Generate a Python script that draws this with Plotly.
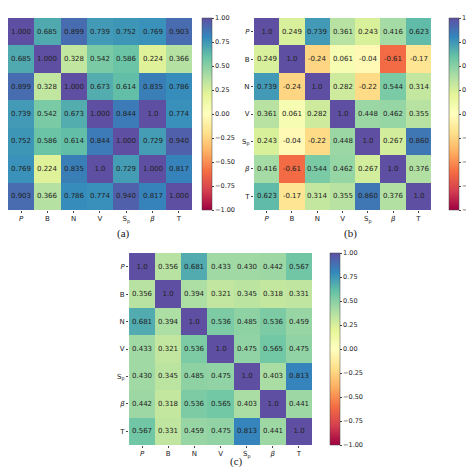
import plotly.graph_objects as go

labels = ["<i>P</i>", "B", "N", "V", "S<sub>p</sub>", "<i>β</i>", "T"]

vals_a = [
    ["1.000", "0.685", "0.899", "0.739", "0.752", "0.769", "0.903"],
    ["0.685", "1.000", "0.328", "0.542", "0.586", "0.224", "0.366"],
    ["0.899", "0.328", "1.000", "0.673", "0.614", "0.835", "0.786"],
    ["0.739", "0.542", "0.673", "1.000", "0.844", "1.0", "0.774"],
    ["0.752", "0.586", "0.614", "0.844", "1.000", "0.729", "0.940"],
    ["0.769", "0.224", "0.835", "1.0", "0.729", "1.000", "0.817"],
    ["0.903", "0.366", "0.786", "0.774", "0.940", "0.817", "1.000"],
]
vals_b = [
    ["1.0", "0.249", "0.739", "0.361", "0.243", "0.416", "0.623"],
    ["0.249", "1.0", "-0.24", "0.061", "-0.04", "-0.61", "-0.17"],
    ["0.739", "-0.24", "1.0", "0.282", "-0.22", "0.544", "0.314"],
    ["0.361", "0.061", "0.282", "1.0", "0.448", "0.462", "0.355"],
    ["0.243", "-0.04", "-0.22", "0.448", "1.0", "0.267", "0.860"],
    ["0.416", "-0.61", "0.544", "0.462", "0.267", "1.0", "0.376"],
    ["0.623", "-0.17", "0.314", "0.355", "0.860", "0.376", "1.0"],
]
vals_c = [
    ["1.0", "0.356", "0.681", "0.433", "0.430", "0.442", "0.567"],
    ["0.356", "1.0", "0.394", "0.321", "0.345", "0.318", "0.331"],
    ["0.681", "0.394", "1.0", "0.536", "0.485", "0.536", "0.459"],
    ["0.433", "0.321", "0.536", "1.0", "0.475", "0.565", "0.475"],
    ["0.430", "0.345", "0.485", "0.475", "1.0", "0.403", "0.813"],
    ["0.442", "0.318", "0.536", "0.565", "0.403", "1.0", "0.441"],
    ["0.567", "0.331", "0.459", "0.475", "0.813", "0.441", "1.0"],
]

W = H = 474
def dx(a, b): return [a / W, b / W]
def dy(top, bot): return [1 - bot / H, 1 - top / H]

panels = [
    (vals_a, dx(0, 190), dy(10, 202), 200, "(a)", (110, 226), False),
    (vals_b, dx(254, 437), dy(10, 202), 455, "(b)", (362, 226), True),
    (vals_c, dx(125, 314), dy(245, 437), 333, "(c)", (236, 462), True),
]

fig = go.Figure()
layout = {}
for i, (vals, xd, yd, cbx, cap, cpos, show_y) in enumerate(panels):
    n = "" if i == 0 else str(i + 1)
    z = [[float(v) for v in row] for row in vals]
    fig.add_trace(go.Heatmap(
        z=z, x=labels, y=labels, text=vals, texttemplate="%{text}",
        textfont=dict(size=7, color="#222"),
        colorscale="Spectral", zmin=-1, zmax=1,
        xaxis="x" + n, yaxis="y" + n,
        colorbar=dict(x=cbx / W, xanchor="left", y=sum(yd) / 2, len=yd[1] - yd[0],
                      thickness=10, outlinewidth=0.5, outlinecolor="#444", xpad=0, ypad=0,
                      tickvals=[-1, -0.75, -0.5, -0.25, 0, 0.25, 0.5, 0.75, 1],
                      tickformat=".2f", tickfont=dict(size=6.5, color="#222"),
                      ticks="outside", ticklen=2),
    ))
    layout["xaxis" + n] = dict(domain=xd, anchor="y" + n, tickfont=dict(size=7, color="#222"),
                               ticks="outside", ticklen=2, showgrid=False)
    layout["yaxis" + n] = dict(domain=yd, anchor="x" + n, autorange="reversed",
                               showticklabels=show_y, tickfont=dict(size=7, color="#222"),
                               ticks="outside" if show_y else "", ticklen=2, showgrid=False)
    fig.add_annotation(text=cap, x=cpos[0] / W, y=1 - cpos[1] / H, xref="paper", yref="paper",
                       showarrow=False, font=dict(size=11, family="Liberation Serif", color="#222"))

fig.update_layout(width=W, height=H, margin=dict(l=0, r=0, t=0, b=0),
                  paper_bgcolor="white", plot_bgcolor="white",
                  font=dict(family="DejaVu Sans"), **layout)
fig.write_html("out.html")
